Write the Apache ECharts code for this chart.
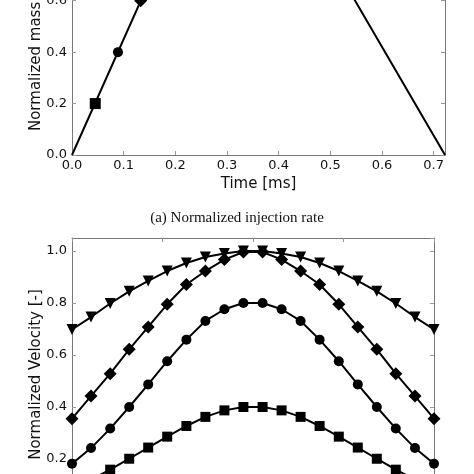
<!DOCTYPE html>
<html>
<head>
<meta charset="utf-8">
<script src="https://cdn.jsdelivr.net/npm/echarts@6/dist/echarts.min.js"></script>
<style>
  html, body { margin: 0; padding: 0; background: #fff; }
  #chart { width: 474px; height: 474px; }
</style>
</head>
<body>
<div id="chart"></div>
<script>
// (a) injection rate: trapezoid corners
var injTime = [0, 0.222, 0.432, 0.722];
var injRate = [0, 1.0, 1.0, 0];
// markers sitting on the ramp
var injMarkTime = [0.045, 0.089, 0.133, 0.178];
var injMarkRate = [0.2, 0.4, 0.6, 0.8];

// (b) velocity profiles, 20 points each
var posX = [-1, -0.895, -0.789, -0.684, -0.579, -0.474, -0.368, -0.263, -0.158, -0.053,
            0.053, 0.158, 0.263, 0.368, 0.474, 0.579, 0.684, 0.789, 0.895, 1];
var velTri = [0.698, 0.746, 0.798, 0.845, 0.885, 0.923, 0.954, 0.977, 0.990, 1.0,
              1.0, 0.990, 0.977, 0.954, 0.923, 0.885, 0.845, 0.798, 0.746, 0.698];
var velDia = [0.355, 0.442, 0.528, 0.622, 0.708, 0.795, 0.871, 0.923, 0.967, 0.996,
              0.996, 0.967, 0.923, 0.871, 0.795, 0.708, 0.622, 0.528, 0.442, 0.355];
var velCirc = [0.182, 0.242, 0.317, 0.400, 0.487, 0.576, 0.659, 0.731, 0.776, 0.800,
               0.800, 0.776, 0.731, 0.659, 0.576, 0.487, 0.400, 0.317, 0.242, 0.182];
var velSq = [0.091, 0.121, 0.159, 0.201, 0.244, 0.286, 0.327, 0.362, 0.387, 0.400,
             0.400, 0.387, 0.362, 0.327, 0.286, 0.244, 0.201, 0.159, 0.121, 0.091];

function pairs(xs, ys) {
  return xs.map(function (x, i) { return [x, ys[i]]; });
}

var font = 'DejaVu Sans';
var frame = { show: true, onZero: false, lineStyle: { color: '#777', width: 1 } };
var tick = { show: true, inside: true, length: 4, lineStyle: { color: '#999' } };
var lbl = { color: '#111', fontSize: 13, fontFamily: font, showMaxLabel: false,
            formatter: function (v) { return v.toFixed(1); } };

function mirror(extra) {
  return Object.assign({ type: 'value', axisLine: frame, axisTick: tick,
    axisLabel: { show: false }, splitLine: { show: false } }, extra);
}

function curve(data, symbol, size, rot, xi, yi) {
  return {
    type: 'line', data: data, xAxisIndex: xi, yAxisIndex: yi,
    symbol: symbol, symbolSize: size, symbolRotate: rot || 0, showAllSymbol: true,
    lineStyle: { color: '#000', width: 2 }, itemStyle: { color: '#000' },
    animation: false, z: 3
  };
}

var chart = echarts.init(document.getElementById('chart'));
chart.setOption({
  backgroundColor: '#fff',
  title: {
    text: '(a) Normalized injection rate', left: 'center', top: 206,
    textStyle: { fontFamily: 'Liberation Serif', fontSize: 15, fontWeight: 'normal', color: '#111' }
  },
  grid: [
    { left: 72, top: -115, width: 373, height: 270, containLabel: false, outerBoundsMode: 'none' },
    { left: 72, top: 238, width: 362, height: 273, containLabel: false, outerBoundsMode: 'none' }
  ],
  xAxis: [
    { type: 'value', gridIndex: 0, min: 0, max: 0.722, interval: 0.1,
      axisLine: frame, axisTick: tick, splitLine: { show: false },
      axisLabel: Object.assign({}, lbl, { margin: 4 }),
      name: 'Time [ms]', nameLocation: 'middle', nameGap: 20,
      nameTextStyle: { fontFamily: font, fontSize: 15, color: '#111' } },
    mirror({ gridIndex: 0, position: 'top', min: 0, max: 0.722, interval: 0.1 }),
    { type: 'value', gridIndex: 1, min: -1, max: 1, interval: 0.5,
      axisLine: frame, axisTick: tick, splitLine: { show: false },
      axisLabel: Object.assign({}, lbl, { margin: 4 }) },
    mirror({ gridIndex: 1, position: 'top', min: -1, max: 1, interval: 0.5 })
  ],
  yAxis: [
    { type: 'value', gridIndex: 0, min: 0, max: 1.05, interval: 0.2,
      axisLine: frame, axisTick: tick, splitLine: { show: false },
      axisLabel: Object.assign({}, lbl, { margin: 5 }),
      name: 'Normalized mass flow rate [-]', nameLocation: 'middle', nameGap: 28,
      nameMoveOverlap: false,
      nameTextStyle: { fontFamily: font, fontSize: 15, color: '#111' } },
    mirror({ gridIndex: 0, position: 'right', min: 0, max: 1.05, interval: 0.2 }),
    { type: 'value', gridIndex: 1, min: 0, max: 1.05, interval: 0.2,
      axisLine: frame, axisTick: tick, splitLine: { show: false },
      axisLabel: Object.assign({}, lbl, { margin: 5 }),
      name: 'Normalized Velocity [-]', nameLocation: 'middle', nameGap: 28,
      nameMoveOverlap: false,
      nameTextStyle: { fontFamily: font, fontSize: 15, color: '#111' } },
    mirror({ gridIndex: 1, position: 'right', min: 0, max: 1.05, interval: 0.2 })
  ],
  series: [
    curve(pairs(injTime, injRate), 'none', 0, 0, 0, 0),
    Object.assign(curve([[injMarkTime[0], injMarkRate[0]]], 'rect', 11, 0, 0, 0), { z: 4 }),
    Object.assign(curve([[injMarkTime[1], injMarkRate[1]]], 'circle', 10, 0, 0, 0), { z: 4 }),
    Object.assign(curve([[injMarkTime[2], injMarkRate[2]]], 'diamond', 13, 0, 0, 0), { z: 4 }),
    Object.assign(curve([[injMarkTime[3], injMarkRate[3]]], 'triangle', 11, 180, 0, 0), { z: 4 }),
    curve(pairs(posX, velTri), 'triangle', 11, 180, 2, 2),
    curve(pairs(posX, velDia), 'diamond', 13, 0, 2, 2),
    curve(pairs(posX, velCirc), 'circle', 10, 0, 2, 2),
    curve(pairs(posX, velSq), 'rect', 10, 0, 2, 2)
  ]
});
</script>
</body>
</html>
